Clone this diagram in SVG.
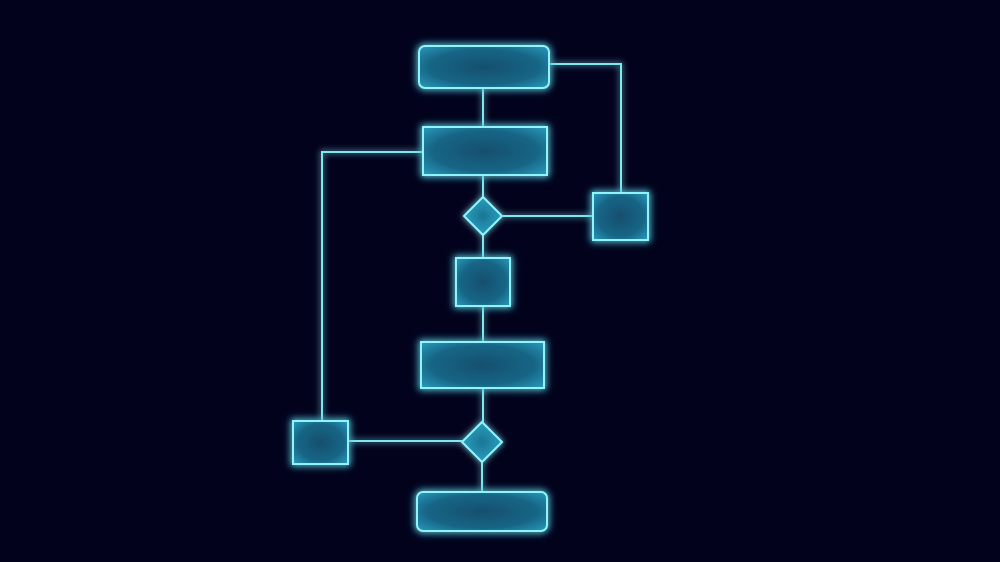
<svg xmlns="http://www.w3.org/2000/svg" width="1000" height="562" viewBox="0 0 1000 562">
  <defs>
    <filter id="glow" filterUnits="userSpaceOnUse" x="0" y="0" width="1000" height="562">
      <feGaussianBlur in="SourceGraphic" stdDeviation="3" result="b"/>
      <feMerge>
        <feMergeNode in="b"/>
        <feMergeNode in="SourceGraphic"/>
      </feMerge>
    </filter>
    <filter id="inner" filterUnits="userSpaceOnUse" x="0" y="0" width="1000" height="562">
      <feGaussianBlur stdDeviation="4"/>
    </filter>
    <radialGradient id="fillg" cx="50%" cy="50%" r="70%">
      <stop offset="0" stop-color="#124f6e"/>
      <stop offset="0.6" stop-color="#176585"/>
      <stop offset="1" stop-color="#2a9bbd"/>
    </radialGradient>
    <radialGradient id="filld" cx="50%" cy="50%" r="60%">
      <stop offset="0" stop-color="#1b7595"/>
      <stop offset="1" stop-color="#2ea6c6"/>
    </radialGradient>
    <style>
      .bg { fill: #03021c; }
      .wire { fill: none; stroke: #7fe9f2; stroke-width: 2; filter: url(#glow); }
      .box { fill: url(#fillg); stroke: #8ff4fb; stroke-width: 2; filter: url(#glow); }
      .dia { fill: url(#filld); stroke: #8ff4fb; stroke-width: 2; filter: url(#glow); }
      .halo { fill: none; stroke: #22b8d8; stroke-width: 5; opacity: 0.55; filter: url(#inner); }
    </style>
  </defs>
  <rect class="bg" x="0" y="0" width="1000" height="562"/>

  <g id="connectors">
    <path class="wire" d="M549,64 H621 V193"/>
    <path class="wire" d="M483,88 V127"/>
    <path class="wire" d="M483,175 V197"/>
    <path class="wire" d="M503,216 H593"/>
    <path class="wire" d="M483,235 V258"/>
    <path class="wire" d="M483,306 V342"/>
    <path class="wire" d="M483,388 V422"/>
    <path class="wire" d="M423,152 H322 V421"/>
    <path class="wire" d="M348,441 H462"/>
    <path class="wire" d="M482,462 V492"/>
  </g>

  <g id="start">
    <rect class="halo" x="419" y="46" width="130" height="42" rx="6"/>
    <rect class="box" x="419" y="46" width="130" height="42" rx="6"/>
  </g>
  <g id="process1">
    <rect class="halo" x="423" y="127" width="124" height="48"/>
    <rect class="box" x="423" y="127" width="124" height="48"/>
  </g>
  <g id="decision1">
    <polygon class="dia" points="483,197 502,216 483,235 464,216"/>
  </g>
  <g id="sidebox1">
    <rect class="halo" x="593" y="193" width="55" height="47"/>
    <rect class="box" x="593" y="193" width="55" height="47"/>
  </g>
  <g id="process2">
    <rect class="halo" x="456" y="258" width="54" height="48"/>
    <rect class="box" x="456" y="258" width="54" height="48"/>
  </g>
  <g id="process3">
    <rect class="halo" x="421" y="342" width="123" height="46"/>
    <rect class="box" x="421" y="342" width="123" height="46"/>
  </g>
  <g id="decision2">
    <polygon class="dia" points="482,422 502,442 482,462 462,442"/>
  </g>
  <g id="sidebox2">
    <rect class="halo" x="293" y="421" width="55" height="43"/>
    <rect class="box" x="293" y="421" width="55" height="43"/>
  </g>
  <g id="end">
    <rect class="halo" x="417" y="492" width="130" height="39" rx="6"/>
    <rect class="box" x="417" y="492" width="130" height="39" rx="6"/>
  </g>
</svg>
